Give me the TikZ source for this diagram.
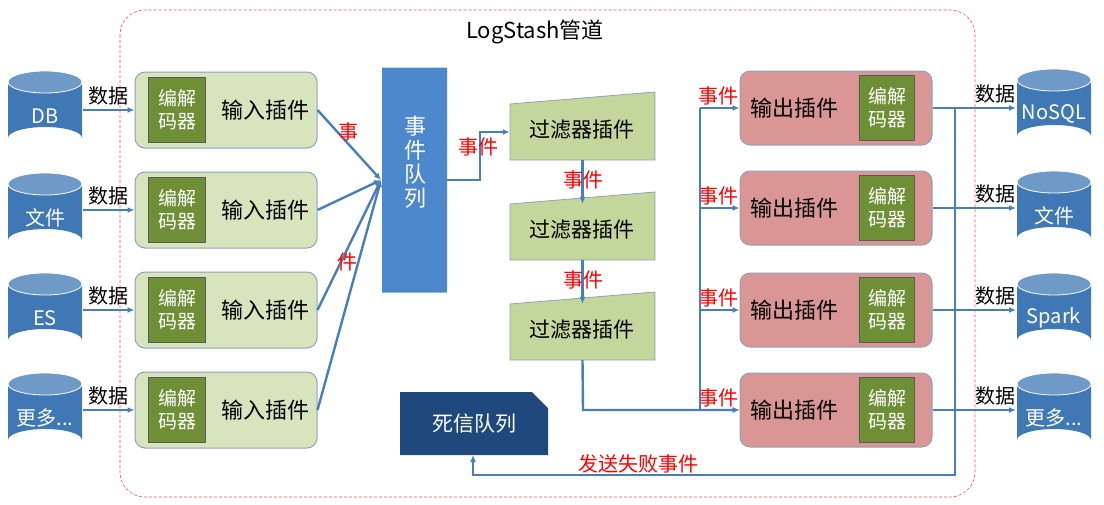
\documentclass[tikz,border=0pt]{standalone}
\usepackage{fontspec}
\setmainfont{Noto Sans CJK SC}
\usetikzlibrary{shapes.misc,arrows.meta}
\definecolor{cylb}{HTML}{3F78B5}
\definecolor{ln}{HTML}{4A7EBB}
\definecolor{inf}{HTML}{D7E4BD}
\definecolor{inb}{HTML}{8EA3B8}
\definecolor{cod}{HTML}{6E8F35}
\definecolor{flt}{HTML}{C3D69B}
\definecolor{outf}{HTML}{D99694}
\definecolor{qb}{HTML}{4D87CC}
\definecolor{dq}{HTML}{1F497D}
\tikzset{
 fs/.style={font=\fontsize{#1}{#1}\selectfont},
 cyl/.style={minimum width=74pt,minimum height=76pt,inner sep=0,text=white,fs=20},
 inb/.style={draw=inb,fill=inf,rounded corners=10pt,line width=1pt,minimum width=182pt,minimum height=76pt},
 outb/.style={draw=inb,fill=outf,rounded corners=10pt,line width=1pt,minimum width=192pt,minimum height=74pt},
 cod/.style={draw=gray!70!black,fill=cod,text=white,minimum width=57pt,minimum height=65pt,inner sep=0,align=center,font=\fontsize{19}{23}\selectfont,line width=0.8pt},
 lab/.style={fs=22},
 dat/.style={fs=20},
 ev/.style={text=red,fs=20},
 arr/.style={draw=ln,line width=2.4pt,-{Latex[length=7pt,width=6pt]}},
 ln/.style={draw=ln,line width=2.4pt},
 fl/.style={draw=inb,fill=flt,line width=0.8pt},
}
\newcommand{\cylshape}[2]{%
 \fill[cylb] (#1-37,#2-28) -- (#1-37,#2+28) arc[start angle=180,end angle=360,x radius=37,y radius=11] -- (#1+37,#2-28) -- cycle;
 \fill[cylb!75!white] (#1,#2-28) ellipse[x radius=37,y radius=11];
 \draw[white,line width=0.8pt] (#1,#2-28) ellipse[x radius=37,y radius=11];
}
\begin{document}
\begin{tikzpicture}[x=1pt,y=-1pt]
\useasboundingbox (0,0) rectangle (1104,504);
\draw[red!70,densely dashed,line width=0.6pt,rounded corners=25pt] (120,10) rectangle (975,497);
\node[fs=22] (title) at (535,32) {LogStash管道};
% left
\foreach \n/\y/\t in {1/110/{DB},2/212/{文件},3/312/{ES},4/412/{更多{.}{.}{.}}}{
 \cylshape{45}{\y}
 \node[cyl] (c\n) at (45,\y+6) {\t};
}
\foreach \n/\y in {1/110,2/210,3/310,4/410}{
 \node[inb] (in\n) at (226,\y) {};
 \node[cod] (ic\n) at (177,\y) {编解\\码器};
 \node[lab] at (265,\y) {输入插件};
 \coordinate (ci\n) at (83,\y);
 \draw[arr] (ci\n) -- (in\n.west);
 \node[dat] at (108,\y-14) {数据};
}
% queue
\node[chamfered rectangle,chamfered rectangle corners=north east,chamfered rectangle xsep=6pt,chamfered rectangle ysep=6pt,fill=qb,minimum width=65pt,minimum height=225pt,inner sep=0] (q) at (414.5,180) {};
\node[text=white,align=center,font=\fontsize{22}{24}\selectfont] at (415,162) {事\\件\\队\\列};
\coordinate (qin) at (381,180);
\foreach \n in {1,2,3,4}{\draw[arr] (in\n.east) -- (qin);}
\node[ev] at (348,132) {事};
\node[ev] at (347,262) {件};
% filters
\foreach \n/\t in {1/104,2/204,3/304}{
 \node[minimum width=145pt,minimum height=56pt,inner sep=0] (f\n) at (582.5,\t+28) {};
 \draw[fl] (510,\t) -- (655,\t-12) -- (655,\t+56) -- (510,\t+56) -- cycle;
 \node[lab,fs=21] at (582,\t+26) {过滤器插件};
}
\draw[arr] (q.east) -- (480,180) -- (480,132) -- (f1.west);
\node[ev] at (478,147) {事件};
\draw[arr] (f1.south) -- (f2.north);
\draw[arr] (f2.south) -- (f3.north);
\node[ev] at (583,180) {事件};
\node[ev] at (583,280) {事件};
% outputs
\foreach \n/\y in {1/108,2/208,3/310,4/410}{
 \node[outb] (o\n) at (836,\y) {};
 \node[cod,minimum width=55pt,minimum height=65pt] (oc\n) at (887,\y) {编解\\码器};
 \node[lab] at (794,\y) {输出插件};
 \draw[arr] (700,\y) -- (o\n.west);
 \node[ev] at (718,\y-12) {事件};
}
\draw[ln] (700,108) -- (700,410);
\draw[arr] (f3.south) -- (583,410) -- (o4.west);
% right
\foreach \n/\y/\cy/\t in {1/108/108/{NoSQL},2/208/210/{文件},3/310/312/{Spark},4/410/412/{更多{.}{.}{.}}}{
 \cylshape{1054}{\cy}
 \node[cyl] (r\n) at (1054,\cy+6) {\t};
}
\foreach \n/\y in {1/108,2/208,3/310,4/410}{
 \coordinate (ro\n) at (1016,\y);
 \draw[arr] (o\n.east) -- (ro\n);
 \node[dat] at (995,\y-14) {数据};
}
% dead letter
\node[chamfered rectangle,chamfered rectangle corners=north east,chamfered rectangle xsep=8pt,chamfered rectangle ysep=8pt,fill=dq,text=white,minimum width=148pt,minimum height=63pt,inner sep=0,fs=21] (dl) at (474,423.5) {死信队列};
\coordinate (dlin) at (473,455);
\draw[arr] (o1.east -| 955,108) -- (955,475) -- (473,475) -- (dlin);
\node[ev] at (638,464) {发送失败事件};
\end{tikzpicture}
\end{document}
